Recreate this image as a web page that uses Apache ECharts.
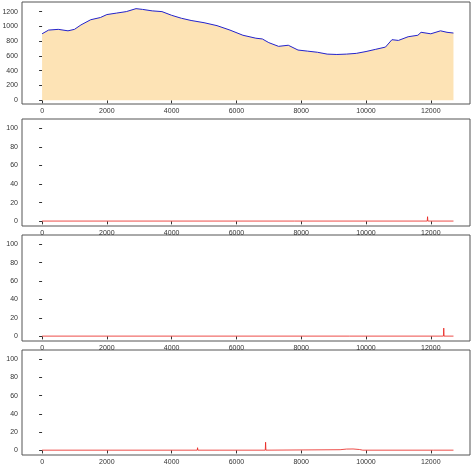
<!DOCTYPE html>
<html><head><meta charset="utf-8">
<script src="https://cdn.jsdelivr.net/npm/echarts@6/dist/echarts.min.js"></script>
<style>html,body{margin:0;padding:0;background:#fff}#main{width:474px;height:467px}</style>
</head><body><div id="main"></div>
<script>
// coverage along the reference
var covPos = [0,200,500,800,1000,1200,1500,1800,2000,2300,2600,2900,3100,3400,3700,4000,4300,4600,5000,5400,5800,6200,6600,6800,7000,7300,7600,7900,8200,8500,8800,9100,9400,9700,10000,10300,10600,10800,11000,11300,11600,11700,12000,12300,12500,12700];
var covVal = [900,950,960,940,960,1020,1090,1120,1160,1180,1200,1240,1230,1210,1200,1150,1110,1080,1050,1010,950,880,840,830,780,730,745,680,665,650,625,620,625,635,660,690,720,820,810,860,880,920,900,940,920,910];
// rates (%) - baseline with spikes
var mutPos = [0,7190,7200,7210,7790,7800,7810,11890,11900,11910,12700];
var mutVal = [0.3,0.3,1,0.3,0.3,1,0.3,0.3,5,0.3,0.3];
var insPos = [0,9490,9500,9510,12390,12400,12410,12700];
var insVal = [0.3,0.3,1,0.3,0.3,9,0.3,0.3];
var delPos = [0,4790,4800,4810,5490,5500,5510,6890,6900,6910,9200,9400,9600,9800,9900,12090,12100,12110,12700];
var delVal = [0.3,0.3,3,0.3,0.3,2,0.3,0.3,9,0.3,0.8,1.5,1.6,1,0.3,0.3,1,0.3,0.3];
var xTicks = [0,2000,4000,6000,8000,10000,12000];

function pairs(p, v){ return p.map(function(x,i){ return [x, v[i]]; }); }

var tops = [2, 119, 235, 350], hs = [102, 107, 106, 105];
var names = ['coverage','mutation rate(%)','insertion rate(%)','deletion rate(%)'];
var grids = [], xAxes = [], yAxes = [], series = [];
var lab = {fontSize: 7, color: '#333', formatter: function(v){ return String(v); }};
for (var i = 0; i < 4; i++) {
  grids.push({left: 22, width: 448, top: tops[i], height: hs[i], show: true, borderColor: '#555', borderWidth: 1,
    containLabel: false, outerBoundsMode: 'none'});
  xAxes.push({type: 'value', gridIndex: i, min: -620, max: 13210,
    axisLine: {show: false}, splitLine: {show: false},
    axisTick: {customValues: xTicks, length: 3, lineStyle: {color: '#333'}},
    axisLabel: Object.assign({customValues: xTicks, margin: 4}, lab),
    name: i === 3 ? 'reference' : '', nameLocation: 'middle', nameGap: 9, nameTextStyle: {fontSize: 9, color: '#333'}});
  var yt = i === 0 ? [0,200,400,600,800,1000,1200] : [0,20,40,60,80,100];
  yAxes.push({type: 'value', gridIndex: i, min: i === 0 ? -50 : -5, max: i === 0 ? 1330 : 110,
    axisLine: {show: false}, splitLine: {show: false},
    axisTick: {customValues: yt, length: 3, lineStyle: {color: '#333'}},
    axisLabel: Object.assign({customValues: yt, margin: 4}, lab),
    name: names[i], nameLocation: 'middle', nameGap: 15, nameTextStyle: {fontSize: 8, color: '#333'}});
}
series.push({type: 'line', xAxisIndex: 0, yAxisIndex: 0, data: pairs(covPos, covVal), symbol: 'none',
  lineStyle: {color: '#2222cc', width: 1}, areaStyle: {color: '#fde3b5', opacity: 1, origin: 0}});
[[mutPos, mutVal],[insPos, insVal],[delPos, delVal]].forEach(function(s, k){
  series.push({type: 'line', xAxisIndex: k+1, yAxisIndex: k+1, data: pairs(s[0], s[1]), symbol: 'none',
    lineStyle: {color: '#e8201a', width: 0.8}});
});
var chart = echarts.init(document.getElementById('main'));
chart.setOption({animation: false, grid: grids, xAxis: xAxes, yAxis: yAxes, series: series});
</script></body></html>
